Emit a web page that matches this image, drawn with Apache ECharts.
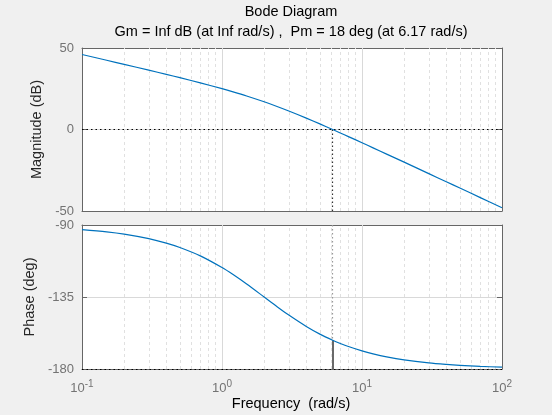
<!DOCTYPE html>
<html>
<head>
<meta charset="utf-8">
<script src="https://cdn.jsdelivr.net/npm/echarts@6/dist/echarts.min.js"></script>
<style>
  html, body { margin: 0; padding: 0; background: #f0f0f0; }
  #main { width: 552px; height: 415px; }
</style>
</head>
<body>
<div id="main"></div>
<script>
// frequency points (rad/s)
var freq = [0.1, 0.15, 0.2, 0.3, 0.4, 0.5, 0.7, 1, 1.2, 1.5, 2, 2.5, 3, 4, 5, 6.17, 7, 8, 10, 12, 15, 20, 30, 40, 50, 70, 100];
// magnitude (dB)
var magDb = [46.01, 42.47, 39.96, 36.38, 33.81, 31.78, 28.62, 25.05, 23.10, 20.56, 16.99, 13.98, 11.36, 6.99, 3.44, 0.0, -2.10, -4.35, -8.13, -11.25, -15.08, -20.04, -27.06, -32.05, -35.92, -41.77, -47.96];
// phase (deg)
var phaseDeg = [-92.86, -94.29, -95.71, -98.53, -101.31, -104.04, -109.29, -116.57, -120.96, -126.87, -135.0, -141.34, -146.31, -153.43, -158.20, -162.04, -164.05, -165.96, -168.69, -170.54, -172.41, -174.29, -176.19, -177.14, -177.71, -178.36, -178.85];
var magTicks = [-50, 0, 50];
var phaseTicks = [-180, -135, -90];
var majorFreq = [1, 10];
var minorFreq = [0.2, 0.3, 0.4, 0.5, 0.6, 0.7, 0.8, 0.9, 2, 3, 4, 5, 6, 7, 8, 9, 20, 30, 40, 50, 60, 70, 80, 90];
var wc = 6.17;      // gain crossover
var pmPhase = -162.04;

var myChart = echarts.init(document.getElementById('main'));

var axisGray = '#666666';
var labelGray = '#737373';
var font = 'Liberation Sans, Arial, Helvetica, sans-serif';

function pairs(x, y) {
    return x.map(function (v, i) { return [v, y[i]]; });
}

// grid lines as vertical marks
function gridMarks() {
    var d = [];
    minorFreq.forEach(function (f) {
        d.push({ xAxis: f, lineStyle: { color: '#e0e0e0', type: [3, 3], width: 1 } });
    });
    majorFreq.forEach(function (f) {
        d.push({ xAxis: f, lineStyle: { color: '#d9d9d9', type: 'solid', width: 1 } });
    });
    return d;
}

function xAx(gi, pos, showLabel) {
    return {
        type: 'log',
        logBase: 10,
        gridIndex: gi,
        position: pos,
        min: 0.1,
        max: 100,
        axisLine: { show: true, onZero: false, lineStyle: { color: axisGray, width: 1 } },
        axisTick: { show: true, inside: true, length: 5, lineStyle: { color: axisGray } },
        splitLine: { show: false },
        axisLabel: {
            show: showLabel,
            margin: 10,
            color: labelGray,
            fontFamily: font,
            formatter: function (v) {
                var e = Math.round(Math.log(v) / Math.LN10);
                return '{b|10}{s|' + e + '}';
            },
            rich: {
                b: { fontSize: 13, fontFamily: font, color: labelGray },
                s: { fontSize: 10, fontFamily: font, color: labelGray, padding: [0, 0, 9, 0] }
            }
        }
    };
}

function yAx(gi, pos, min, max, step, showLabel, split) {
    return {
        type: 'value',
        gridIndex: gi,
        position: pos,
        min: min,
        max: max,
        interval: step,
        axisLine: { show: true, lineStyle: { color: axisGray, width: 1 } },
        axisTick: { show: true, inside: true, length: 5, lineStyle: { color: axisGray } },
        splitLine: { show: split, lineStyle: { color: '#d9d9d9', width: 1 } },
        axisLabel: { show: showLabel, color: labelGray, fontSize: 13, fontFamily: font, margin: 8 }
    };
}

function centerText(txt, x, y) {
    return {
        type: 'text',
        x: x,
        y: y,
        style: { text: txt, fontSize: 14.5, fill: '#000', fontFamily: font, align: 'center', verticalAlign: 'middle' }
    };
}

myChart.setOption({
    backgroundColor: '#f0f0f0',
    animation: false,
    grid: [
        { left: 82, top: 48, width: 420, height: 163, show: true, backgroundColor: '#ffffff', borderWidth: 0 },
        { left: 82, top: 225, width: 420, height: 144, show: true, backgroundColor: '#ffffff', borderWidth: 0 }
    ],
    xAxis: [
        xAx(0, 'bottom', false),
        xAx(0, 'top', false),
        xAx(1, 'bottom', true),
        xAx(1, 'top', false)
    ],
    yAxis: [
        Object.assign(yAx(0, 'left', -50, 50, 50, true, true), {
            name: 'Magnitude (dB)', nameLocation: 'middle', nameGap: 24,
            nameTextStyle: { fontSize: 14.5, color: '#262626', fontFamily: font }
        }),
        yAx(0, 'right', -50, 50, 50, false, false),
        Object.assign(yAx(1, 'left', -180, -90, 45, true, true), {
            name: 'Phase (deg)', nameLocation: 'middle', nameGap: 31,
            nameTextStyle: { fontSize: 14.5, color: '#262626', fontFamily: font }
        }),
        yAx(1, 'right', -180, -90, 45, false, false)
    ],
    graphic: [
        centerText('Bode Diagram', 291, 12),
        centerText('Gm = Inf dB (at Inf rad/s) ,  Pm = 18 deg (at 6.17 rad/s)', 291, 32),
        centerText('Frequency  (rad/s)', 291, 404)
    ],
    series: [{
        name: 'mag',
        type: 'line',
        xAxisIndex: 0,
        yAxisIndex: 0,
        data: pairs(freq, magDb),
        smooth: 0.3,
        showSymbol: false,
        z: 5,
        lineStyle: { color: '#0072bd', width: 1.2 },
        markLine: {
            silent: true,
            symbol: 'none',
            label: { show: false },
            z: 1,
            data: gridMarks().concat([
                { yAxis: 0, lineStyle: { color: '#000', type: [1.5, 3], width: 1.2 } },
                [{ coord: [wc, 0], lineStyle: { color: '#333', type: [1.5, 2.5], width: 1.2 } }, { coord: [wc, -50] }]
            ])
        }
    }, {
        name: 'phase',
        type: 'line',
        xAxisIndex: 2,
        yAxisIndex: 2,
        data: pairs(freq, phaseDeg),
        smooth: 0.3,
        showSymbol: false,
        z: 5,
        lineStyle: { color: '#0072bd', width: 1.2 },
        markLine: {
            silent: true,
            symbol: 'none',
            label: { show: false },
            z: 1,
            data: gridMarks().concat([
                { yAxis: -180, lineStyle: { color: '#000', type: [1.5, 3], width: 1.2 } },
                [{ coord: [wc, -90], lineStyle: { color: '#999', type: [1.5, 2.5], width: 1.2 } }, { coord: [wc, pmPhase] }],
                [{ coord: [wc, pmPhase], lineStyle: { color: '#444', type: 'solid', width: 1.6 } }, { coord: [wc, -180] }]
            ])
        }
    }]
});
</script>
</body>
</html>
